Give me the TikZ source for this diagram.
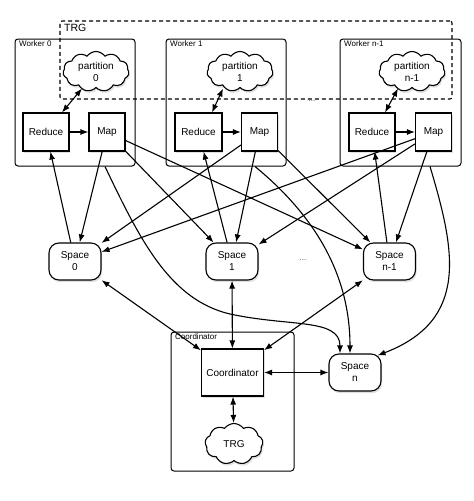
\documentclass[tikz,border=0pt]{standalone}
\usepackage{fontspec}
\setmainfont{Liberation Sans}
\usetikzlibrary{shapes.symbols,shapes.misc,shadows,calc,arrows.meta}
\begin{document}
\begin{tikzpicture}[x=1pt,y=-1pt,
  font=\fontsize{10}{12}\selectfont,
  shad/.style={drop shadow={shadow xshift=1.2pt,shadow yshift=-2.2pt,fill=black!12,draw=none,opacity=1}},
  box/.style={draw, fill=white, line width=1.1pt, inner sep=0pt, shad},
  sq/.style={box, minimum height=38pt},
  space/.style={box, rectangle, rounded corners=10pt, minimum width=52pt, minimum height=37pt, align=center},
  partcloud/.style={box, cloud, cloud puffs=11, cloud puff arc=110, cloud ignores aspect, minimum width=66pt, minimum height=40pt, align=center},
  grp/.style={draw, line width=1pt, rounded corners=3pt, inner sep=0pt},
  trgdash/.style={draw, dashed, dash pattern=on 4pt off 3pt, line width=1.1pt, rounded corners=2pt, inner sep=0pt},
  lbl/.style={font=\fontsize{8}{9}\selectfont, inner sep=0pt, anchor=west},
  dotlbl/.style={font=\fontsize{8}{9}\selectfont, text=black!70, inner sep=0pt},
  conn/.style={line width=1.1pt, -{Latex[length=8pt,width=6pt]}},
  biconn/.style={line width=1.1pt, {Latex[length=8pt,width=6pt]}-{Latex[length=8pt,width=6pt]}},
]
\useasboundingbox (0,0) rectangle (474,501);

% group boxes
\node[grp, minimum width=120pt, minimum height=127pt] (w0) at (75,102.5) {};
\node[grp, minimum width=120pt, minimum height=127pt] (w1) at (226,102.5) {};
\node[grp, minimum width=121pt, minimum height=127pt] (wn) at (400.5,102.5) {};
\node[trgdash, minimum width=392pt, minimum height=78pt] (trgbox) at (256,60) {};
\node[grp, minimum width=123pt, minimum height=139pt] (coordbox) at (232.5,401.5) {};

\node[lbl, font=\fontsize{10.5}{12}\selectfont] (trgl) at (64,27.5) {TRG};
\node[lbl] (w0l) at (19,44) {Worker 0};
\node[lbl] (w1l) at (170,44) {Worker 1};
\node[lbl] (wnl) at (344,44) {Worker n-1};
\node[lbl] (cl) at (175,336.5) {Coordinator};
\node[dotlbl] (d1) at (312,101) {...};
\node[dotlbl] (d2) at (303,260) {...};

% partitions
\node[partcloud] (p0) at (96,71.5) {partition\\0};
\node[partcloud] (p1) at (240,71.5) {partition\\1};
\node[partcloud] (pn) at (412,71.5) {partition\\n-1};

% reduce / map
\node[sq, minimum width=46pt] (r0) at (46,132) {Reduce};
\node[sq, minimum width=36pt] (m0) at (107,132) {Map};
\node[sq, minimum width=47pt] (r1) at (198.5,132) {Reduce};
\node[sq, minimum width=36pt] (m1) at (259.5,132) {Map};
\node[sq, minimum width=46pt] (rn) at (372,132) {Reduce};
\node[sq, minimum width=36pt] (mn) at (433.5,132) {Map};

% spaces
\node[space] (s0) at (75,261.5) {Space\\0};
\node[space] (s1) at (232,261.5) {Space\\1};
\node[space] (sn1) at (389.5,261.5) {Space\\n-1};
\node[space] (sn) at (355,372.5) {Space\\n};

% coordinator
\node[box, minimum width=62pt, minimum height=47pt] (coord) at (232.5,372.5) {Coordinator};
\node[box, cloud, cloud puffs=9, cloud puff arc=110, cloud ignores aspect, minimum width=58pt, minimum height=41pt] (trg) at (234,444) {TRG};

% connectors
\draw[biconn] ($(p0.center)+(-14,17)$) -- ($(r0.north)+(16,0)$);
\draw[biconn] ($(p1.center)+(-17,17)$) -- ($(r1.north)+(13.5,0)$);
\draw[biconn] ($(pn.center)+(-14,17)$) -- ($(rn.north)+(13,0)$);

\draw[conn] (r0) -- (m0);
\draw[conn] (r1) -- (m1);
\draw[conn] (rn) -- (mn);

\draw[conn] (s0) -- (r0);
\draw[conn] (m0) -- (s0);
\draw[conn] (m0) -- (s1);
\draw[conn] (m0) -- (sn1);
\draw[conn] (m1) -- (s0);
\draw[conn] (m1) -- (s1);
\draw[conn] (m1) -- (sn1);
\draw[conn] (s1) -- (r1);
\draw[conn] (mn) -- (s0);
\draw[conn] (mn) -- (s1);
\draw[conn] (mn) -- (sn1);
\draw[conn] (sn1) -- (rn);

\draw[conn] ($(w0.south)+(30,0)$) .. controls (140,240) and (170,300) .. (230,314)
  .. controls (290,327) and (340,318) .. ($(sn.north)+(-15,0)$);
\draw[conn] ($(w1.south)+(29,0)$) .. controls (320,220) and (350,280) .. ($(sn.north)+(-5,0)$);
\draw[conn] ($(wn.south)+(29.5,0)$) .. controls (455,250) and (470,320) .. ($(sn.north east)+(-4,2)$);

\draw[biconn] (coord) -- (s0);
\draw[biconn] (coord) -- (s1);
\draw[biconn] (coord) -- (sn1);
\draw[biconn] (coord) -- (sn);
\draw[biconn] (coord) -- (trg);
\end{tikzpicture}
\end{document}
